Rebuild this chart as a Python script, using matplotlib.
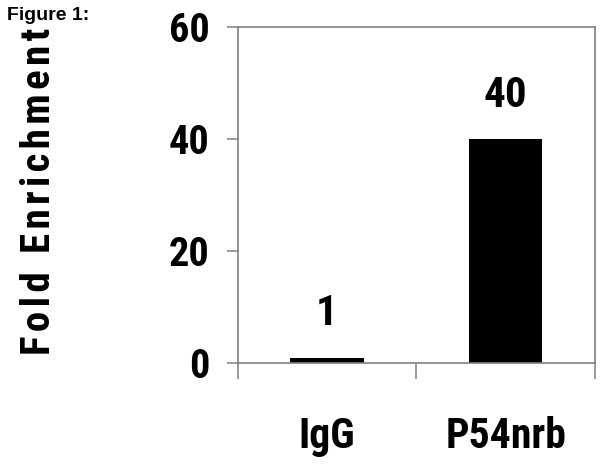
import numpy as np
import matplotlib
matplotlib.use("Agg")
import matplotlib.pyplot as plt

groups = ["IgG", "P54nrb"]
fold = [1, 40]
value_labels = ["1", "40"]
yticks = [0, 20, 40, 60]
ylabel = "Fold Enrichment"

narrow = ["Roboto Condensed", "DejaVu Sans"]
grey = "#808080"

fig = plt.figure(figsize=(6.0, 4.66), dpi=100)
ax = fig.add_axes([0.396, 0.22, 0.596, 0.722])

x = np.arange(len(groups))
ax.bar(x, fold, width=0.41, color="black")

ax.set_xlim(-0.5, len(groups) - 0.5)
ax.set_ylim(0, 60)

for side in ["left", "right", "top", "bottom"]:
    ax.spines[side].set_color(grey)
    ax.spines[side].set_linewidth(1.2)

ax.set_yticks(yticks)
ax.set_yticklabels([str(v) for v in yticks], family=narrow, fontweight="bold", fontsize=29)
ax.tick_params(axis="y", direction="out", length=8, width=1.1, color=grey, pad=12)

# ticks on category boundaries, labels on the centres
ax.set_xticks(np.arange(len(groups) + 1) - 0.5)
ax.set_xticklabels([])
ax.tick_params(axis="x", which="major", direction="out", length=11.5, width=1.1, color=grey)
ax.set_xticks(x, minor=True)
ax.set_xticklabels(groups, minor=True, family=narrow, fontweight="bold", fontsize=30)
ax.tick_params(axis="x", which="minor", length=0, pad=38)

for xi, v, lab in zip(x, fold, value_labels):
    ax.annotate(lab, (xi, v), xytext=(0, 17), textcoords="offset points",
                ha="center", va="bottom", family=narrow, fontweight="bold", fontsize=31)

# letter-spaced axis title, shrunk to fit ~326 px
spaced = "\u200a".join(ylabel)
yl = fig.text(0.065, 0.59, spaced, rotation=90, ha="center", va="center",
              family=narrow, fontweight="bold", fontsize=31)
r = fig.canvas.get_renderer()
h = yl.get_window_extent(r).height
if h > 326:
    yl.set_fontsize(31 * 326 / h)

fig.text(0.012, 0.985, "Figure 1:", ha="left", va="top",
         family=["Liberation Sans", "DejaVu Sans"], fontweight="bold", fontsize=14)

fig.savefig("out.png", dpi=100)
